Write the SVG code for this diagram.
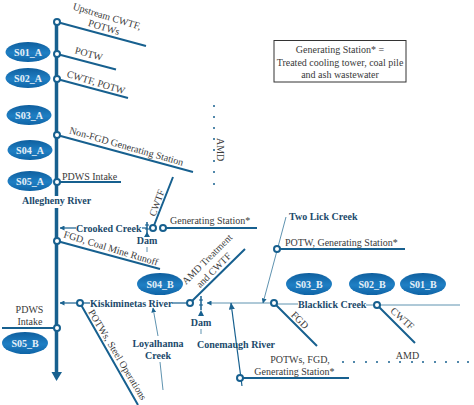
<svg xmlns="http://www.w3.org/2000/svg" width="474" height="405" viewBox="0 0 474 405">
<defs>
<linearGradient id="g" x1="0" y1="0" x2="0" y2="1"><stop offset="0" stop-color="#0f5f9e"/><stop offset="0.55" stop-color="#1f7fc4"/><stop offset="1" stop-color="#0f64a6"/></linearGradient>
<marker id="a" markerWidth="5" markerHeight="5" refX="4.500" refY="2.500" orient="auto" markerUnits="userSpaceOnUse"><path d="M0,0L5,2.500L0,5Z" fill="#1b6390"/></marker>
<marker id="c" markerWidth="7" markerHeight="6" refX="6.500" refY="3" orient="auto" markerUnits="userSpaceOnUse"><path d="M0,0L7,3L0,6Z" fill="#1b6390"/></marker>
</defs>
<style>
text{font-family:"Liberation Serif",serif;font-size:10px;fill:#3a3a3a}
.b{font-weight:bold;fill:#1b4a6b;font-size:10px}
.s{font-weight:bold;fill:#e6f0f8;font-size:10px;text-anchor:middle}
.m{text-anchor:middle}
ellipse{fill:url(#g)}
.l{stroke:#17608f;stroke-width:2;fill:none}
.t{stroke:#5f93b0;stroke-width:1;fill:none}
.h{stroke:#17608f;stroke-width:1.200;fill:none}
.n{fill:#fff;stroke:#17608f;stroke-width:2}
.d{fill:#17608f}
</style>
<g id="connectors">
<path d="M56.500 22V196M56.500 208V373" stroke="#17608f" stroke-width="3.500" fill="none"/>
<path d="M51.500 372H62L56.500 381Z" fill="#17608f"/>
<path class="l" d="M57 22L146 46M57 54L116 69.500M57 79L128 98M57 135L193 172M57 182H121M57 241L160 269M2 328H57M80 303L138 405M190 303L245 249M153 228L173 177M163 228H257M276 249H405M274 303L317 346M377 305L415 343M240 378H349"/>
<path class="h" d="M76 228L60 228" marker-end="url(#a)"/>
<path class="h" d="M90 303L60 303" marker-end="url(#a)"/>
<path class="h" d="M172 303H190"/>
<path class="h" d="M142 228H147"/>
<path class="t" d="M273 303H207" marker-end="url(#a)"/>
<path class="t" d="M274 304H298M366 305H460"/>
<path class="t" d="M286 217L263 303" marker-end="url(#a)"/>
<path class="t" d="M158 336L153 308" marker-end="url(#a)"/>
<path class="t" d="M160 362L163 390"/>
<path class="h" d="M242 386L231 303" marker-end="url(#c)"/>
<path class="l" d="M147 222V234M201 296V310" style="stroke-width:1.500"/>
<path class="h" d="M145 225H149M145 229H149M199 300H203M199 305H203"/>
<path class="d" d="M147 232L150 237H144ZM201 310L204 316H198Z"/>
<path class="t" d="M147 247V252M201 329V334"/>
</g>
<g id="junctions">
<circle class="n" cx="57" cy="22" r="3"/><circle class="n" cx="57" cy="54" r="3"/><circle class="n" cx="57" cy="79" r="3"/><circle class="n" cx="57" cy="135" r="3"/><circle class="n" cx="57" cy="182" r="3"/><circle class="n" cx="57" cy="241" r="3"/><circle class="n" cx="57" cy="328" r="3"/>
<circle class="n" cx="153" cy="228" r="3"/><circle class="n" cx="163" cy="228" r="3"/><circle class="n" cx="80" cy="303" r="3"/><circle class="n" cx="190" cy="303" r="3"/><circle class="n" cx="277" cy="249" r="3"/><circle class="n" cx="274" cy="303" r="3"/><circle class="n" cx="377" cy="305" r="3"/><circle class="n" cx="240" cy="378" r="3"/>
</g>
<g id="S01_A"><ellipse cx="28" cy="52" rx="22.500" ry="10"/><text class="s" x="28" y="55.500">S01_A</text></g>
<g id="S02_A"><ellipse cx="28" cy="78" rx="22.500" ry="10"/><text class="s" x="28" y="81.500">S02_A</text></g>
<g id="S03_A"><ellipse cx="29" cy="115" rx="22.500" ry="10"/><text class="s" x="29" y="118.500">S03_A</text></g>
<g id="S04_A"><ellipse cx="30" cy="150" rx="22.500" ry="10"/><text class="s" x="30" y="153.500">S04_A</text></g>
<g id="S05_A"><ellipse cx="30" cy="181" rx="22.500" ry="10"/><text class="s" x="30" y="184.500">S05_A</text></g>
<g id="S04_B"><ellipse cx="160" cy="284" rx="23" ry="11"/><text class="s" x="160" y="287.500">S04_B</text></g>
<g id="S05_B"><ellipse cx="25" cy="343" rx="23" ry="11"/><text class="s" x="25" y="346.500">S05_B</text></g>
<g id="S03_B"><ellipse cx="309" cy="284" rx="23" ry="11"/><text class="s" x="309" y="287.500">S03_B</text></g>
<g id="S02_B"><ellipse cx="372" cy="284" rx="23" ry="11"/><text class="s" x="372" y="287.500">S02_B</text></g>
<g id="S01_B"><ellipse cx="423" cy="284" rx="23" ry="11"/><text class="s" x="423" y="287.500">S01_B</text></g>
<g id="legend"><rect x="274" y="40.500" width="132" height="41.500" fill="#fff" stroke="#333" stroke-width="1"/><text class="m" x="340" y="52.500">Generating Station* =</text><text class="m" x="340" y="65.500">Treated cooling tower, coal pile</text><text class="m" x="340" y="77.500">and ash wastewater</text></g>
<g id="labels" class="labels">
<text class="m" transform="translate(106 19.500) rotate(17)">Upstream CWTF,</text>
<text class="m" transform="translate(103 30.500) rotate(17)">POTWs</text>
<text class="m" transform="translate(88 57) rotate(15)">POTW</text>
<text class="m" transform="translate(95 85.500) rotate(17)">CWTF, POTW</text>
<text class="m" transform="translate(125.500 149.500) rotate(16)">Non-FGD Generating Station</text>
<text x="62" y="179.500">PDWS Intake</text>
<text class="b" x="22" y="204">Allegheny River</text>
<text class="b" x="76" y="231.500">Crooked Creek</text>
<text class="b m" x="147" y="244">Dam</text>
<text class="m" transform="translate(160 204) rotate(-70)">CWTF</text>
<text x="170" y="224">Generating Station*</text>
<text class="m" transform="translate(110 251.500) rotate(17)">FGD, Coal Mine Runoff</text>
<text class="m" transform="translate(209.500 261.500) rotate(-45)">AMD Treatment</text>
<text class="m" transform="translate(216 272.500) rotate(-45)">and CWTF</text>
<text class="b" x="90" y="307">Kiskiminetas River</text>
<text class="m" x="29.500" y="312.500">PDWS</text>
<text class="m" x="30" y="324.500">Intake</text>
<text transform="translate(88 312) rotate(59)">POTWs, Steel Operations</text>
<text class="b m" x="158" y="346.500">Loyalhanna</text>
<text class="b m" x="158" y="358.500">Creek</text>
<text class="b m" x="201" y="325.500">Dam</text>
<text class="b" x="197" y="347.500">Conemaugh River</text>
<text class="b" x="289" y="219.500">Two Lick Creek</text>
<text x="285" y="245.500">POTW, Generating Station*</text>
<text class="b" x="298" y="308">Blacklick Creek</text>
<text class="m" transform="translate(297.500 322.500) rotate(45)">FGD</text>
<text class="m" transform="translate(400 321) rotate(42)">CWTF</text>
<text class="m" x="300" y="362.500">POTWs, FGD,</text>
<text class="m" x="294.500" y="374.500">Generating Station*</text>
<text class="m" x="407.500" y="358.500">AMD</text>
<text transform="translate(217 138) rotate(90)">AMD</text>
</g>
<g id="dots" class="d">
<circle cx="214" cy="106" r="1"/><circle cx="214" cy="117" r="1"/><circle cx="214" cy="128" r="1"/><circle cx="214" cy="139" r="1"/><circle cx="214" cy="150" r="1"/><circle cx="214" cy="161" r="1"/><circle cx="214" cy="172" r="1"/><circle cx="214" cy="184" r="1"/>
<circle cx="343" cy="362" r="1"/><circle cx="354" cy="362" r="1"/><circle cx="366" cy="362" r="1"/><circle cx="377" cy="362" r="1"/><circle cx="389" cy="362" r="1"/><circle cx="400" cy="362" r="1"/><circle cx="412" cy="362" r="1"/><circle cx="423" cy="362" r="1"/><circle cx="435" cy="362" r="1"/><circle cx="446" cy="362" r="1"/><circle cx="458" cy="362" r="1"/><circle cx="468" cy="362" r="1"/>
</g>
</svg>
